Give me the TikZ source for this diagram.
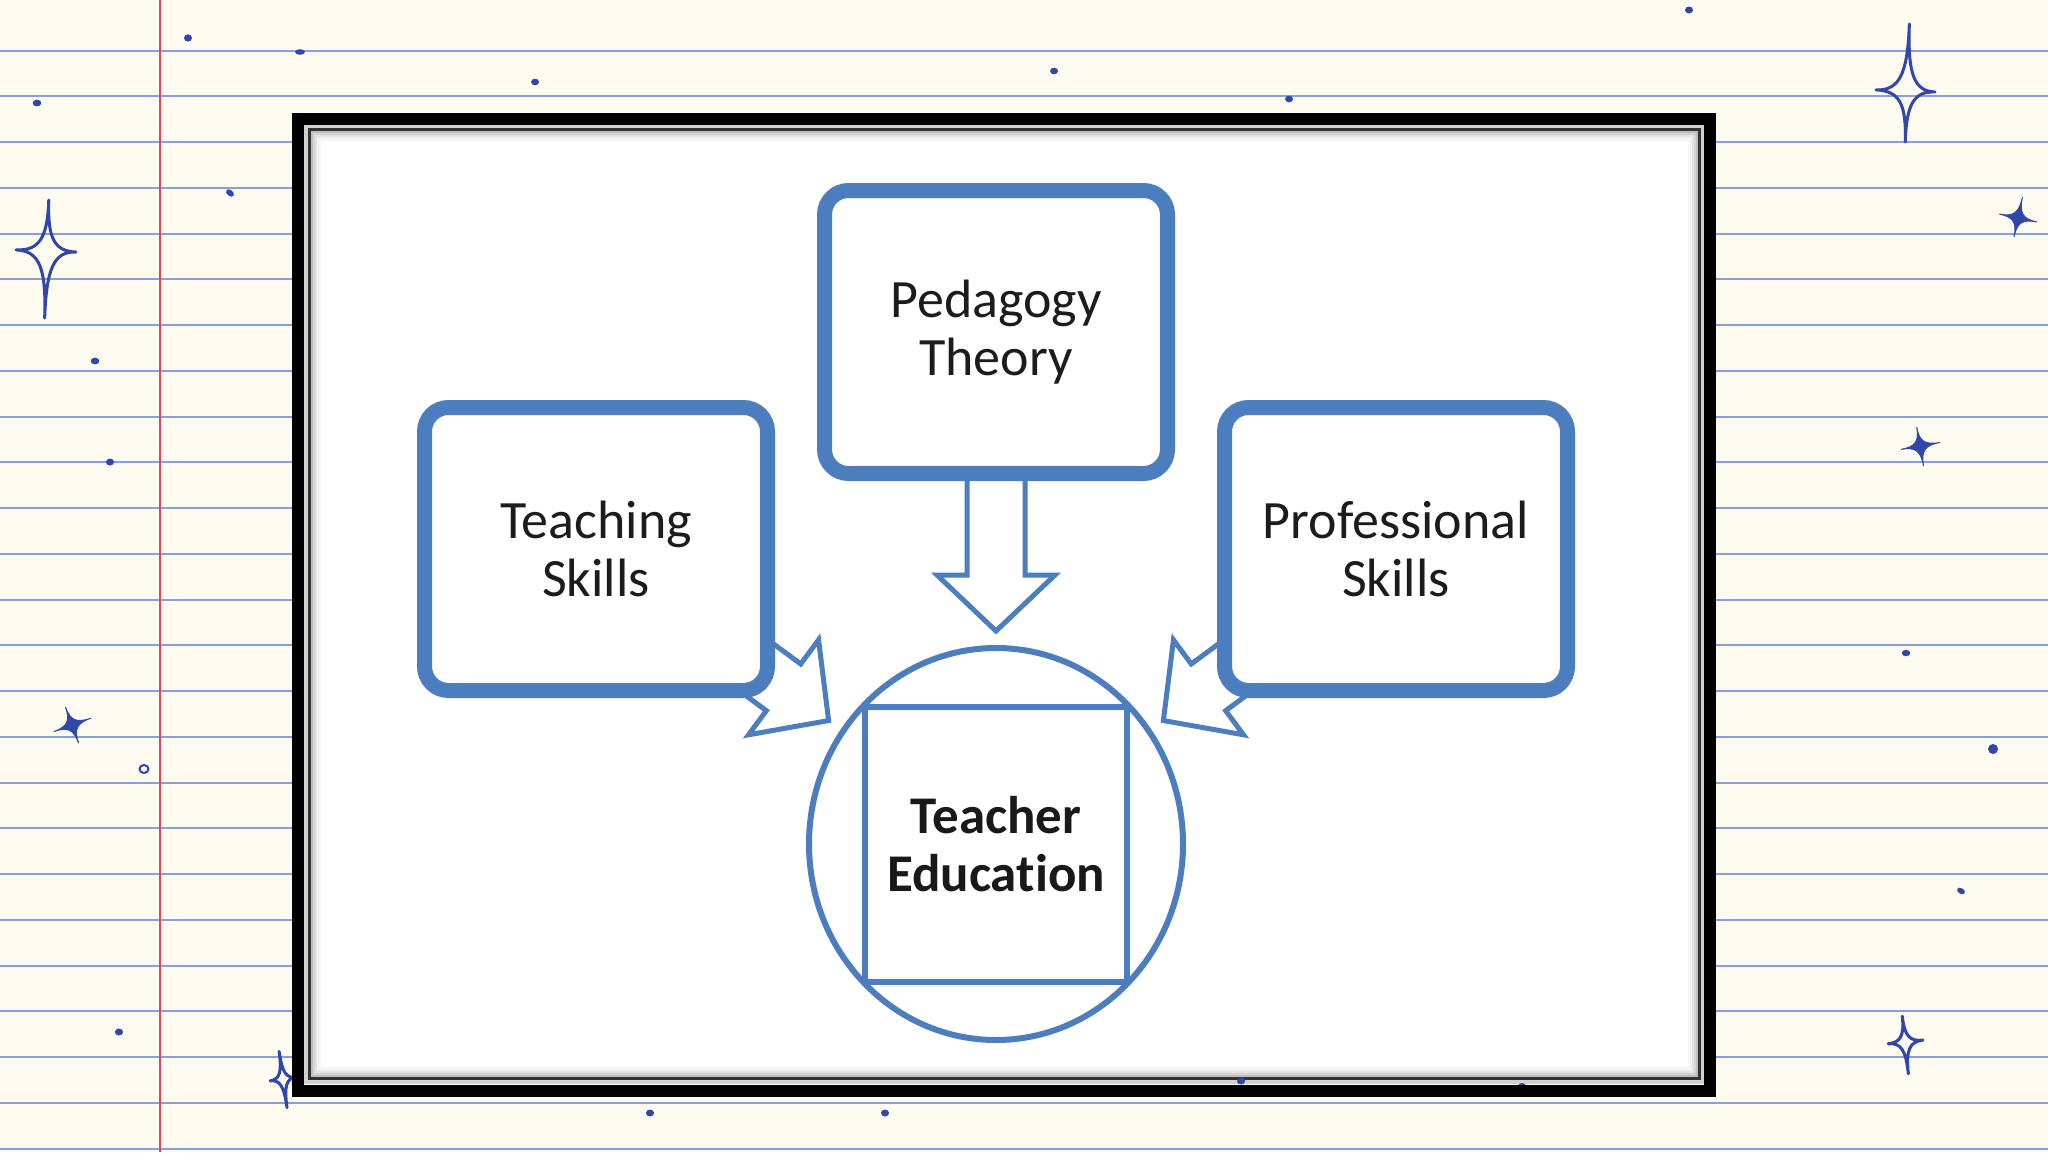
\documentclass[tikz,border=0pt]{standalone}
\usepackage{fontspec}
\setmainfont{Carlito}[Ligatures=NoCommon]
\usetikzlibrary{shapes.geometric,calc}

\definecolor{paper}{HTML}{FDFAEF}
\definecolor{ruleblue}{HTML}{8A9EDB}
\definecolor{marginred}{HTML}{E2465E}
\definecolor{ink}{HTML}{3046AA}
\definecolor{boxblue}{HTML}{4C7DBF}
\definecolor{textdark}{HTML}{1C1C1C}

\pgfdeclarelayer{paperlayer}
\pgfdeclarelayer{arrowlayer}
\pgfsetlayers{paperlayer,arrowlayer,main}

% four-point sparkle: style, centre, top, right, bottom, left
\newcommand{\sparkle}[6]{%
	\path[shift={(#2)}, #1] (0,-#3)
		.. controls (0,{-0.25*#3}) and ({0.25*#4},0) .. (#4,0)
		.. controls ({0.25*#4},0) and (0,{0.25*#5}) .. (0,#5)
		.. controls (0,{0.25*#5}) and ({-0.25*#6},0) .. (-#6,0)
		.. controls ({-0.25*#6},0) and (0,{-0.25*#3}) .. (0,-#3) -- cycle;}

% hollow block arrow from a node towards a tip coordinate
\newcommand{\blockarrow}[2]{%
	\pgfmathanglebetweenpoints{\pgfpointanchor{#1}{center}}{\pgfpointanchor{#2}{center}}%
	\let\arrowangle\pgfmathresult
	\draw[hollowarrow, shift={(#2)}, rotate=\arrowangle]
		(0,0) -- (-56,59) -- (-56,29) -- (-200,29) -- (-200,-29) -- (-56,-29) -- (-56,-59) -- cycle;}

\begin{document}
\begin{tikzpicture}[
		x=1pt, y=-1pt,
		% Define styles
		skillbox/.style={draw=boxblue, line width=15pt, rounded corners=24pt, fill=white,
			minimum width=343pt, minimum height=283pt, align=center, text=textdark,
			font=\fontsize{54}{58}\selectfont},
		corering/.style={draw=boxblue, ellipse, line width=6pt, minimum width=374pt,
			minimum height=392pt, inner sep=0pt},
		corebox/.style={draw=boxblue, rectangle, line width=6pt, minimum width=262pt,
			minimum height=275pt, align=center, text=black!90,
			font=\bfseries\fontsize{53}{58}\selectfont},
		hollowarrow/.style={draw=boxblue, line width=5pt, fill=white, line join=miter},
		ruleline/.style={ruleblue, line width=2pt},
		outlinestar/.style={draw=ink, line width=3pt, line join=round},
		solidstar/.style={draw=ink, fill=ink, line width=1pt, line join=round}
	]
	\useasboundingbox (0,0) rectangle (2048,1152);

	\begin{pgfonlayer}{paperlayer}
		% Ruled paper
		\fill[paper] (0,0) rectangle (2048,1152);
		\foreach \k in {0,...,24}
			\draw[ruleline] (0,{50.5+45.75*\k}) -- (2048,{50.5+45.75*\k});
		\draw[marginred, line width=2.5pt] (160,0) -- (160,1152);

		% Sparkles
		\sparkle{outlinestar, rotate=-2}{47,251}{51}{29}{67}{31}
		\sparkle{outlinestar, rotate=-2}{1907,91}{67}{28}{51}{31}
		\sparkle{solidstar, rotate=-12}{2018,218}{21}{19}{19}{19}
		\sparkle{solidstar, rotate=10}{1920,446}{19}{20}{20}{19}
		\sparkle{solidstar, rotate=20}{72,725}{19}{20}{19}{19}
		\sparkle{outlinestar, rotate=6}{1905,1042}{26}{18}{32}{17}
		\sparkle{outlinestar, rotate=8}{283,1079}{28}{13}{29}{13}

		% Ink dots
		\foreach \dx/\dy/\rx/\ry/\da in {188/38/4/3.6/0, 300/52/5/2.8/0, 37/103/4.3/3.4/0,
				230/193/4.5/3/-40, 95/361/4.3/3.4/0, 110/462/4/3.5/0, 535/82/4/3.3/0,
				1054/71/4/3.3/0, 1289/99/4/3.3/0, 1689/10/4/3.5/0, 1906/653/4.2/3.2/0,
				1993/749/5/5/0, 1961/891/4.3/2.8/-30, 119/1032/4/3.5/0,
				650/1113/4/3.5/0, 885/1113/4/3.5/0}
			\fill[ink, rotate around={\da:(\dx,\dy)}] (\dx,\dy) ellipse [x radius=\rx, y radius=\ry];
		\draw[ink, line width=2pt] (144,769) ellipse [x radius=4.5, y radius=4];

		% Picture frame
		\fill[white] (304,125) rectangle (1704,1084);
		\foreach \dd/\op in {2.5/0.25, 4.5/0.17, 6.5/0.11, 8.5/0.06, 10.5/0.03}
			\draw[black, opacity=\op, line width=2pt] ({309.5+\dd},{129.5+\dd}) rectangle ({1699.5-\dd},{1078-\dd});
		\draw[black!18, line width=4pt] (305.5,126.5) rectangle (1702,1082);
		\draw[black!80, line width=3pt] (309.5,129.5) rectangle (1699.5,1078);
		\fill[ink] (1522,1086) ellipse [x radius=4, y radius=3];
		\draw[black, line width=12pt] (298,119) rectangle (1710,1091);
		\fill[ink] (1241,1081) ellipse [x radius=4, y radius=3.5];
	\end{pgfonlayer}

	% Outer boxes
	\node[skillbox] (ped) at (996,332) {Pedagogy\\Theory};
	\node[skillbox] (teach) at (596,549) {Teaching\\Skills};
	\node[skillbox] (prof) at (1396,549) {Professional\\Skills};

	% Centre
	\node[corering] (core) at (996,844) {};
	\node[corebox] (edu) at (core.center) {Teacher\\Education};

	% Arrow tips
	\coordinate (tipP) at ($(core.center)!213pt!(ped.center)$);
	\coordinate (tipT) at ($(core.center)!208pt!(teach.center)$);
	\coordinate (tipR) at ($(core.center)!208pt!(prof.center)$);

	\begin{pgfonlayer}{arrowlayer}
		\blockarrow{ped}{tipP}
		\blockarrow{teach}{tipT}
		\blockarrow{prof}{tipR}
	\end{pgfonlayer}
\end{tikzpicture}
\end{document}
